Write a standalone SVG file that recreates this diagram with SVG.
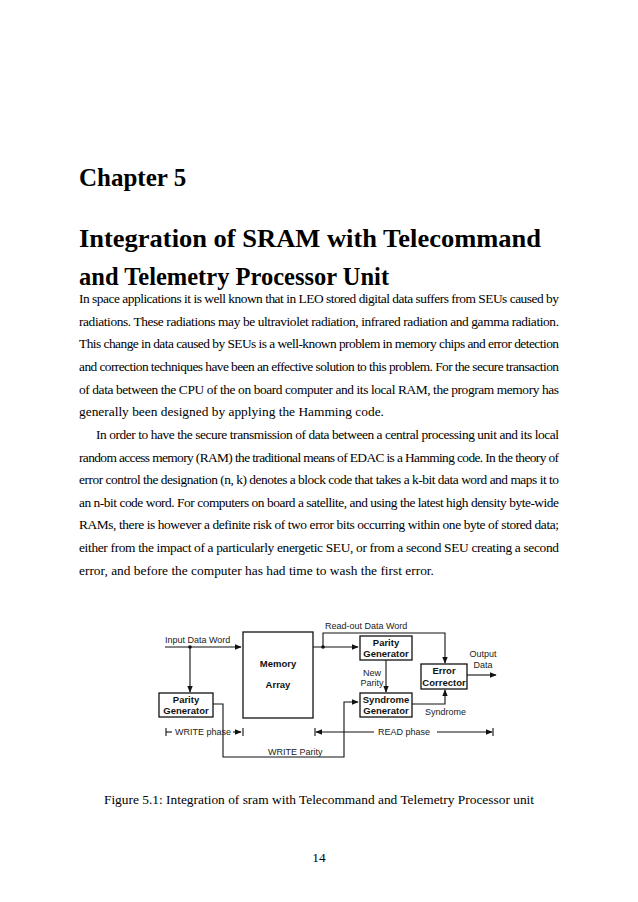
<svg xmlns="http://www.w3.org/2000/svg" width="638" height="902" viewBox="0 0 638 902">
<defs>
<marker id="ah" viewBox="0 0 10 10" refX="9" refY="5" markerWidth="7" markerHeight="7" orient="auto-start-reverse" markerUnits="userSpaceOnUse"><path d="M0,1 L10,5 L0,9 z" fill="#111"/></marker>
</defs>
<style>
.h{font-family:"Liberation Serif",serif;font-weight:bold;fill:#000}
.b{font-family:"Liberation Serif",serif;font-size:13.4px;fill:#000}
.d{font-family:"Liberation Sans",Arial,sans-serif;font-size:9px;fill:#222}
.db{font-family:"Liberation Sans",Arial,sans-serif;font-size:9.5px;font-weight:bold;fill:#111;text-anchor:middle}
.bx{fill:#fff;stroke:#111;stroke-width:1.3}
.ln{fill:none;stroke:#111;stroke-width:1.1}
</style>
<rect width="638" height="902" fill="#fff"/>
<text class="h" x="79" y="186" font-size="25">Chapter 5</text>
<text class="h" x="79" y="247" font-size="24.5" textLength="462" lengthAdjust="spacingAndGlyphs">Integration of SRAM with Telecommand</text>
<text class="h" x="79" y="285" font-size="24.5">and Telemetry Processor Unit</text>
<g class="b">
<text x="79" y="303" textLength="480" lengthAdjust="spacing">In space applications it is well known that in LEO stored digital data suffers from SEUs caused by</text>
<text x="79" y="326" textLength="480" lengthAdjust="spacing">radiations.  These radiations may be ultraviolet radiation, infrared radiation and gamma radiation.</text>
<text x="79" y="348" textLength="480" lengthAdjust="spacing">This change in data caused by SEUs is a well-known problem in memory chips and error detection</text>
<text x="79" y="371" textLength="480" lengthAdjust="spacing">and correction techniques have been an effective solution to this problem. For the secure transaction</text>
<text x="79" y="394" textLength="480" lengthAdjust="spacing">of data between the CPU of the on board computer and its local RAM, the program memory has</text>
<text x="79" y="416">generally been designed by applying the Hamming code.</text>
<text x="96" y="439" textLength="463" lengthAdjust="spacing">In order to have the secure transmission of data between a central processing unit and its local</text>
<text x="79" y="462" textLength="480" lengthAdjust="spacing">random access memory (RAM) the traditional means of EDAC is a Hamming code. In the theory of</text>
<text x="79" y="484" textLength="480" lengthAdjust="spacing">error control the designation (n, k) denotes a block code that takes a k-bit data word and maps it to</text>
<text x="79" y="507" textLength="480" lengthAdjust="spacing">an n-bit code word. For computers on board a satellite, and using the latest high density byte-wide</text>
<text x="79" y="529" textLength="480" lengthAdjust="spacing">RAMs, there is however a definite risk of two error bits occurring within one byte of stored data;</text>
<text x="79" y="552" textLength="480" lengthAdjust="spacing">either from the impact of a particularly energetic SEU, or from a second SEU creating a second</text>
<text x="79" y="575">error, and before the computer has had time to wash the first error.</text>
</g>
<g id="connectors">
<line class="ln" x1="165" y1="647" x2="241" y2="647" marker-end="url(#ah)"/>
<circle cx="190" cy="647" r="1.8" fill="#111"/>
<line class="ln" x1="190" y1="647" x2="190" y2="692" marker-end="url(#ah)"/>
<line class="ln" x1="313" y1="647" x2="358" y2="647" marker-end="url(#ah)"/>
<circle cx="323" cy="647" r="1.8" fill="#111"/>
<polyline class="ln" points="323,647 323,633 445,633 445,663" marker-end="url(#ah)"/>
<line class="ln" x1="386" y1="660" x2="386" y2="692" marker-end="url(#ah)"/>
<polyline class="ln" points="412,704 445,704 445,690" marker-end="url(#ah)"/>
<line class="ln" x1="467" y1="675" x2="496" y2="675" marker-end="url(#ah)"/>
<polyline class="ln" points="213,704 223,704 223,757 344,757 344,702 358,702" marker-end="url(#ah)"/>
<line class="ln" x1="166" y1="728" x2="166" y2="736"/>
<line class="ln" x1="166" y1="732" x2="172" y2="732"/>
<line class="ln" x1="233" y1="732" x2="241" y2="732" marker-end="url(#ah)"/>
<line class="ln" x1="243" y1="728" x2="243" y2="736"/>
<line class="ln" x1="315" y1="728" x2="315" y2="736"/>
<line class="ln" x1="374" y1="732" x2="316" y2="732" marker-end="url(#ah)"/>
<line class="ln" x1="437" y1="732" x2="492" y2="732" marker-end="url(#ah)"/>
<line class="ln" x1="493" y1="728" x2="493" y2="736"/>
</g>
<g id="memory"><rect class="bx" x="243" y="632" width="70" height="86"/><text class="db" x="278" y="667">Memory</text><text class="db" x="278" y="688">Array</text></g>
<g id="pg-left"><rect class="bx" x="159" y="693" width="54" height="24"/><text class="db" x="186" y="703">Parity</text><text class="db" x="186" y="714">Generator</text></g>
<g id="pg-top"><rect class="bx" x="360" y="636" width="52" height="24"/><text class="db" x="386" y="646">Parity</text><text class="db" x="386" y="657">Generator</text></g>
<g id="syndrome"><rect class="bx" x="360" y="693" width="52" height="24"/><text class="db" x="386" y="703">Syndrome</text><text class="db" x="386" y="714">Generator</text></g>
<g id="corrector"><rect class="bx" x="421" y="664" width="46" height="25"/><text class="db" x="444" y="674">Error</text><text class="db" x="444" y="686">Corrector</text></g>
<g class="d">
<text x="165" y="643">Input Data Word</text>
<text x="325" y="629">Read-out Data Word</text>
<text x="483" y="657" text-anchor="middle">Output</text>
<text x="483" y="668" text-anchor="middle">Data</text>
<text x="372" y="676" text-anchor="middle">New</text>
<text x="372" y="686" text-anchor="middle">Parity</text>
<text x="425" y="715">Syndrome</text>
<text x="175" y="735">WRITE phase</text>
<text x="378" y="735">READ phase</text>
<text x="268" y="755">WRITE  Parity</text>
</g>
<text x="319" y="804" text-anchor="middle" style="font-family:'Liberation Serif',serif;font-size:13.4px">Figure 5.1: Integration of sram with Telecommand and Telemetry Processor unit</text>
<text x="319" y="862" text-anchor="middle" style="font-family:'Liberation Serif',serif;font-size:13.4px">14</text>
</svg>
